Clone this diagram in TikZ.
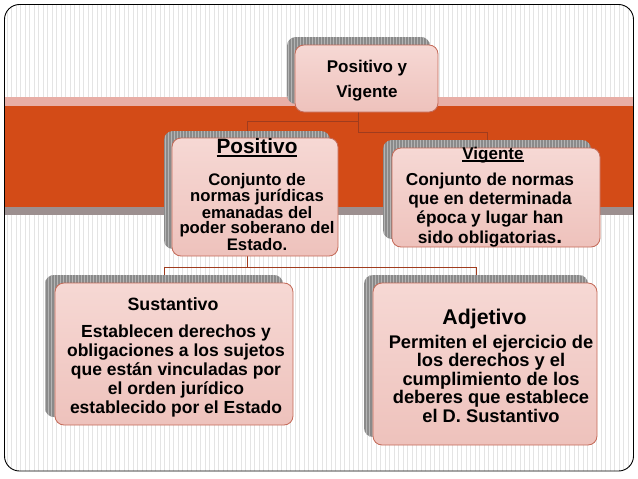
\documentclass[tikz,border=0pt]{standalone}
\usepackage{fontspec}
\setmainfont{Liberation Sans}
\usetikzlibrary{patterns}
\definecolor{orangeband}{HTML}{D34B17}
\definecolor{pinkband}{HTML}{E8AEA6}
\definecolor{grayband}{HTML}{9C8F8F}
\definecolor{stripecol}{HTML}{E4E4E4}
\definecolor{boxtop}{HTML}{F6D8D4}
\definecolor{boxbot}{HTML}{EEC2BC}
\definecolor{boxedge}{HTML}{C46A58}
\definecolor{shadowgray}{HTML}{8A8A8A}
\definecolor{shadowstripe}{HTML}{B4B4B4}
\definecolor{linkcol}{HTML}{A03C1E}
\newcommand\thickul[2][3pt]{\setbox0\hbox{#2}\rlap{\rule[-#1]{\wd0}{1.5pt}}\box0}
\begin{document}
\begin{tikzpicture}[x=1pt,y=-1pt,
  card/.style={rectangle, rounded corners=9pt, top color=boxtop, bottom color=boxbot, draw=boxedge, line width=0.8pt, inner sep=0pt, outer sep=0pt},
  shadowcard/.style={rectangle, rounded corners=9pt, preaction={fill=shadowgray}, pattern=vertical lines, pattern color=shadowstripe, inner sep=0pt, outer sep=0pt},
  link/.style={draw=linkcol, line width=0.7pt},
  ttl/.style={anchor=base, inner sep=0pt},
  bodytxt/.style={anchor=north, inner sep=0pt, align=center},
]
\useasboundingbox (0,0) rectangle (638,479);
\fill[white] (0,0) rectangle (638,479);
% background
\begin{scope}
\clip[rounded corners=15pt] (4.5,4.5) rectangle (633.5,471);
\foreach \x in {7,11.5,...,632} \draw[stripecol, line width=0.6pt] (\x,4) -- (\x,472);
\fill[pinkband] (0,97) rectangle (638,106);
\fill[orangeband] (0,106) rectangle (638,207);
\fill[grayband] (0,207) rectangle (638,215);
\end{scope}
\draw[line width=0.9pt, rounded corners=15pt] (4.5,4.5) rectangle (633.5,471);

% shadows
\node[shadowcard, minimum width=143pt, minimum height=67pt] (topS) at (358.5,70.5) {};
\node[shadowcard, minimum width=166pt, minimum height=118pt] (posS) at (247,190) {};
\node[shadowcard, minimum width=208pt, minimum height=99pt] (vigS) at (487,189.5) {};
\node[shadowcard, minimum width=238pt, minimum height=142pt] (susS) at (164,346) {};
\node[shadowcard, minimum width=224pt, minimum height=162pt] (adjS) at (476,356) {};

% connectors
\draw[link] (topS.south) -- ++(0,17) -| (posS.north);
\draw[link] (topS.south) -- ++(0,28) -| (vigS.north);
\draw[link] (posS.south) -- ++(0,18) -| (susS.north);
\draw[link] (posS.south) -- ++(0,18) -| (adjS.north);

% cards
\node[card, minimum width=143pt, minimum height=67pt] (top) at (366.5,78.5) {};
\node[card, minimum width=166pt, minimum height=118pt] (pos) at (255,197) {};
\node[card, minimum width=208pt, minimum height=99pt] (vig) at (496,197.5) {};
\node[card, minimum width=238pt, minimum height=142pt] (sus) at (174,354) {};
\node[card, minimum width=224pt, minimum height=162pt] (adj) at (485,364) {};

% texts
\node[bodytxt, font=\bfseries\fontsize{17}{25}\selectfont] (topT) at (367,59.6) {Positivo y\\Vigente};

\node[ttl, font=\bfseries\fontsize{20.8}{23}\selectfont] (posT) at (257,153) {\thickul[3.5pt]{Positivo}};
\node[bodytxt, font=\bfseries\fontsize{16.7}{15.3}\selectfont] (posB) at (257,172.8) {Conjunto de\\normas jurídicas\\emanadas del\\poder soberano del\\Estado.};

\node[ttl, font=\bfseries\fontsize{17}{19}\selectfont] (vigT) at (493,159) {\thickul[2.8pt]{Vigente}};
\node[bodytxt, font=\bfseries\fontsize{17.3}{19.3}\selectfont] (vigB) at (490,172.4) {Conjunto de normas\\que en determinada\\época y lugar han\\sido obligatorias{\fontsize{21}{21}\selectfont.}};

\node[ttl, font=\bfseries\fontsize{17.8}{20}\selectfont] (susT) at (173,310) {Sustantivo};
\node[bodytxt, font=\bfseries\fontsize{17.5}{19}\selectfont] (susB) at (176,324.2) {Establecen derechos y\\obligaciones a los sujetos\\que están vinculadas por\\el orden jurídico\\establecido por el Estado};

\node[ttl, font=\bfseries\fontsize{21.3}{24}\selectfont] (adjT) at (484.5,324) {Adjetivo};
\node[bodytxt, font=\bfseries\fontsize{18.3}{18.6}\selectfont] (adjB) at (491,334.6) {Permiten el ejercicio de\\los derechos y el\\cumplimiento de los\\deberes que establece\\el D. Sustantivo};
\end{tikzpicture}
\end{document}
